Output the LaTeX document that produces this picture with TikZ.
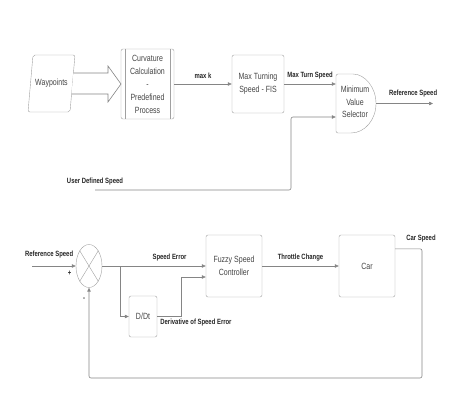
\documentclass[tikz,border=0pt]{standalone}
\usepackage{fontspec}
\setmainfont{Liberation Sans}
\newfontfamily\narrowfont{Liberation Sans}[FakeStretch=0.78]
\usetikzlibrary{arrows.meta, shapes.geometric, positioning}

\definecolor{linegray}{HTML}{858585}
\definecolor{boxgray}{HTML}{A0A0A0}
\definecolor{txtgray}{HTML}{444444}

\tikzset{
    block/.style={draw=boxgray, rounded corners=2pt, align=center, text=txtgray,
        font=\narrowfont\fontsize{9}{13}\selectfont, inner sep=1pt},
    lbl/.style={font=\narrowfont\bfseries\fontsize{7.6}{8}\selectfont, text=black!85, inner sep=0pt},
    conn/.style={draw=linegray, line width=0.6pt},
    arr/.style={conn, -{Triangle[length=4pt,width=3.5pt]}},
}

\begin{document}
\begin{tikzpicture}[x=1pt, y=-1pt]
    \useasboundingbox (0,0) rectangle (474,412);

    % Speed reference generation
    \node[align=center, text=txtgray, font=\narrowfont\fontsize{9}{13}\selectfont,
        minimum width=42, minimum height=57, inner sep=0pt] (wp) at (51.5,83.5) {Waypoints};
    \draw[draw=boxgray, rounded corners=2pt] (33,55) -- (75,55) -- (70,112) -- (28,112) -- cycle;
    \draw[conn, fill=white] (73.4,73) -- (108,73) -- (108,66) -- (121,84) -- (108,102) -- (108,94) -- (71.6,94);

    \node[block, minimum width=53, minimum height=70] (curv) at (147.5,84) {Curvature\\Calculation\\-\\Predefined\\Process};
    \draw[draw=boxgray] ([xshift=4pt]curv.north west) -- ([xshift=4pt]curv.south west);
    \draw[draw=boxgray] ([xshift=-4pt]curv.north east) -- ([xshift=-4pt]curv.south east);

    \node[block, minimum width=52, minimum height=58] (fis) at (258,84) {Max Turning\\Speed - FIS};

    % Minimum value selector (D shape)
    \node[align=center, text=txtgray, font=\narrowfont\fontsize{9}{12.5}\selectfont,
        minimum width=40, minimum height=59, inner sep=0pt] (sel) at (356,103.5) {};
    \node[align=center, text=txtgray, font=\narrowfont\fontsize{9}{12.5}\selectfont] (seltxt) at (355,102) {Minimum\\Value\\Selector};
    \draw[draw=boxgray] (351,74) .. controls (364.8,74) and (376,87.2) .. (376,103.5)
        .. controls (376,119.8) and (364.8,133) .. (351,133)
        [rounded corners=2pt] -- (336,133) -- (336,74) -- cycle;

    \coordinate (refout) at (433,103.5);
    \coordinate (uds) at (95,190);
    \coordinate (udsup) at (291,117);

    \draw[arr] (curv.east) -- (fis.west) node[lbl, midway, above=5pt] {max k};
    \draw[arr] (fis.east) -- (sel.west |- fis.east) node[lbl, midway, above=5pt] {Max Turn Speed};
    \draw[arr] (sel.east) -- (refout) node[lbl, pos=0.65, above=6pt] {Reference Speed};
    \draw[arr, rounded corners=2pt] (uds) node[lbl, above=5pt] {User Defined Speed}
        -| (udsup) -- (sel.west |- udsup);

    % Speed control loop
    \node[draw=boxgray, ellipse, minimum width=26, minimum height=43, inner sep=0pt] (sum) at (89,266) {};
    \draw[draw=boxgray] (sum.north east) -- (sum.south west) (sum.north west) -- (sum.south east);
    \node[lbl] (plus) at (69.5,273) {+};
    \node[lbl] (minus) at (84,299) {-};

    \node[block, minimum width=56, minimum height=62] (fuzzy) at (234,266) {Fuzzy Speed\\Controller};
    \node[block, minimum width=28, minimum height=41] (ddt) at (143,316.5) {D/Dt};
    \node[block, minimum width=56, minimum height=62] (car) at (367,266) {Car};

    \coordinate (refin) at (32,266);
    \coordinate (br) at (120,266);
    \coordinate (fbr) at (422,378);

    \draw[arr] (refin) -- (sum.west) node[lbl, pos=0.39, above=7.5pt] {Reference Speed};
    \draw[arr] (sum.east) -- (fuzzy.west) node[lbl, pos=0.65, above=5pt] {Speed Error};
    \draw[arr] (br) |- (ddt.west);
    \draw[arr] (ddt.east) -- ++(24,0) |- ([yshift=-11pt]fuzzy.west);
    \node[lbl, anchor=north west] at ([xshift=3pt,yshift=-2pt]ddt.east) {Derivative of Speed Error};
    \draw[arr] (fuzzy.east) -- (car.west) node[lbl, midway, above=5pt] {Throttle Change};

    \draw[arr, rounded corners=2pt] ([yshift=-14pt]car.north east) -| (fbr) -| (sum.south);
    \node[lbl] (carspd) at (421,239) {Car Speed};
\end{tikzpicture}
\end{document}
